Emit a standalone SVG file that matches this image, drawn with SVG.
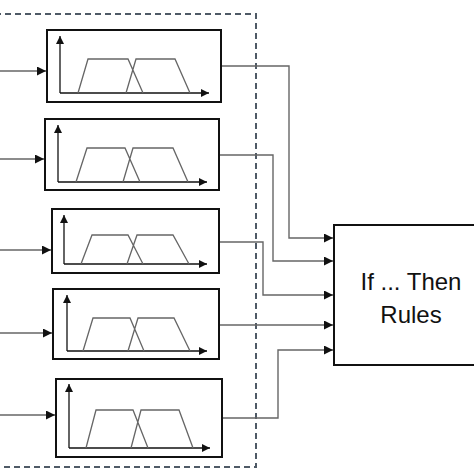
<svg xmlns="http://www.w3.org/2000/svg" width="474" height="474" viewBox="0 0 474 474">
<style>
.box{fill:#fff;stroke:#111;stroke-width:2}
.ax{fill:none;stroke:#111;stroke-width:1.3}
.mf{fill:none;stroke:#666;stroke-width:1.3}
.con{fill:none;stroke:#666;stroke-width:1.4}
.dash{fill:none;stroke:#4f5a66;stroke-width:2;stroke-dasharray:6,4}
.txt{font-family:"Liberation Sans",Arial,sans-serif;font-size:24px;fill:#111;text-anchor:middle}
</style>
<defs>
<marker id="ah" viewBox="0 0 10 10" refX="10" refY="5" markerWidth="9" markerHeight="9" markerUnits="userSpaceOnUse" orient="auto"><path d="M0,0 L10,5 L0,10 z" fill="#111"/></marker>
<marker id="axh" viewBox="0 0 10 10" refX="10" refY="5" markerWidth="8" markerHeight="8" markerUnits="userSpaceOnUse" orient="auto"><path d="M0,0 L10,5 L0,10 z" fill="#111"/></marker>
</defs>
<path class="dash" d="M-5,14 H256 V467 H-5"/>
<g id="connectors">
<path class="con" d="M0,71 H46" marker-end="url(#ah)"/>
<path class="con" d="M0,159 H44" marker-end="url(#ah)"/>
<path class="con" d="M0,250 H51" marker-end="url(#ah)"/>
<path class="con" d="M0,333 H52" marker-end="url(#ah)"/>
<path class="con" d="M0,415 H55" marker-end="url(#ah)"/>
<path class="con" d="M221,66 H289 V238 H333" marker-end="url(#ah)"/>
<path class="con" d="M219,155 H273 V261 H333" marker-end="url(#ah)"/>
<path class="con" d="M219,242 H263 V295 H333" marker-end="url(#ah)"/>
<path class="con" d="M219,325 H333" marker-end="url(#ah)"/>
<path class="con" d="M222,418 H278 V350 H333" marker-end="url(#ah)"/>
</g>
<g id="fuzzy1">
<rect class="box" x="47" y="30" width="174" height="72"/>
<path class="ax" d="M60,93 V36" marker-end="url(#axh)"/>
<path class="ax" d="M60,93 H209" marker-end="url(#axh)"/>
<path class="mf" d="M78,93 L88,59 H128 L143,93 M126,93 L136,59 H175 L190,93"/>
</g>
<g id="fuzzy2">
<rect class="box" x="45" y="119" width="174" height="71"/>
<path class="ax" d="M58,182 V125" marker-end="url(#axh)"/>
<path class="ax" d="M58,182 H207" marker-end="url(#axh)"/>
<path class="mf" d="M76,182 L87,148 H125 L140,182 M123,182 L133,148 H173 L188,182"/>
</g>
<g id="fuzzy3">
<rect class="box" x="52" y="209" width="167" height="64"/>
<path class="ax" d="M64,264 V215" marker-end="url(#axh)"/>
<path class="ax" d="M64,264 H207" marker-end="url(#axh)"/>
<path class="mf" d="M81,264 L92,235 H128 L143,264 M127,264 L137,235 H173 L189,264"/>
</g>
<g id="fuzzy4">
<rect class="box" x="53" y="289" width="166" height="70"/>
<path class="ax" d="M67,351 V295" marker-end="url(#axh)"/>
<path class="ax" d="M67,351 H207" marker-end="url(#axh)"/>
<path class="mf" d="M83,351 L93,318 H130 L144,351 M128,351 L138,318 H174 L190,351"/>
</g>
<g id="fuzzy5">
<rect class="box" x="56" y="379" width="166" height="78"/>
<path class="ax" d="M69,448 V384" marker-end="url(#axh)"/>
<path class="ax" d="M69,448 H210" marker-end="url(#axh)"/>
<path class="mf" d="M86,448 L96,410 H133 L148,448 M131,448 L141,410 H179 L193,448"/>
</g>
<g id="rules">
<rect class="box" x="334" y="225" width="150" height="140"/>
<text class="txt" x="411" y="290">If ... Then</text>
<text class="txt" x="411" y="323">Rules</text>
</g>
</svg>
